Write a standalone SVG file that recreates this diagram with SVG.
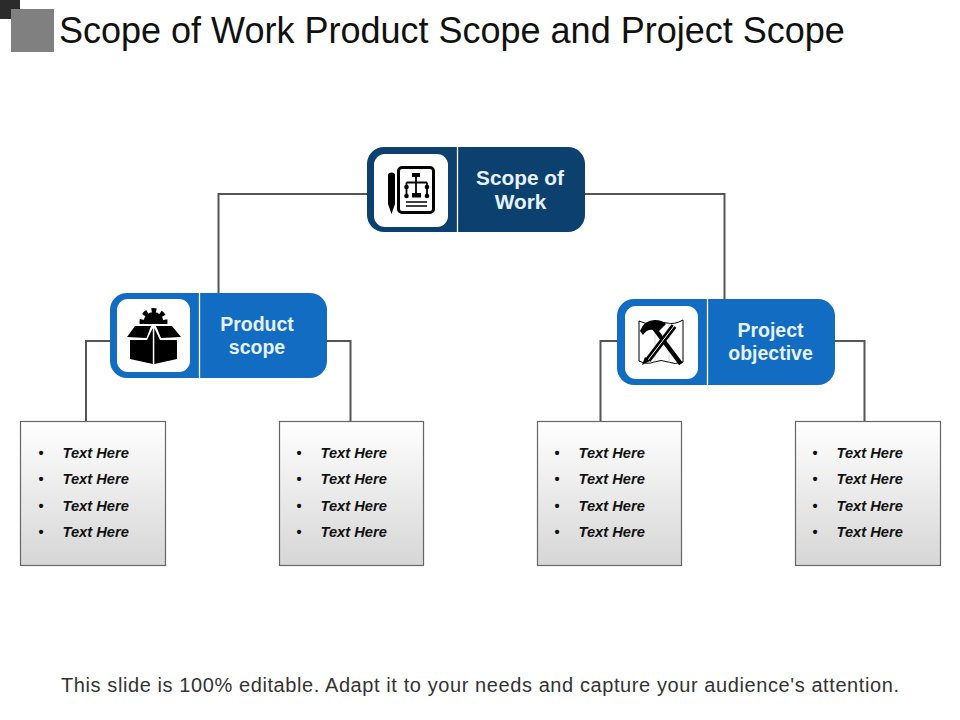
<svg xmlns="http://www.w3.org/2000/svg" xmlns:xlink="http://www.w3.org/1999/xlink" width="960" height="720" viewBox="0 0 960 720">
<style>
text{font-family:"Liberation Sans",Arial,sans-serif}
.title{font-size:36px;fill:#111}
.foot{font-size:20px;fill:#333}
.lbl{font-size:19.500px;font-weight:bold;fill:#e6f2fb;text-anchor:middle}
.lbl2{font-size:20.800px;font-weight:bold;fill:#e6f2fb;text-anchor:middle}
.li{font-size:14.700px;font-weight:bold;font-style:italic;fill:#111}
.bu{font-size:14.600px;font-weight:bold;fill:#111}
.box{fill:url(#g);stroke:#666;stroke-width:1.2}
.conn{fill:none;stroke:#555;stroke-width:2}
.k{fill:#000}
.ko{fill:none;stroke:#000}
</style>
<defs>
<linearGradient id="g" x1="0" y1="0" x2="0" y2="1"><stop offset="0" stop-color="#fff"/><stop offset="1" stop-color="#d6d6d6"/></linearGradient>
<clipPath id="gearclip"><rect x="130" y="300" width="46" height="24"/></clipPath>
<g id="items">
<text class="bu" x="18" y="37">•</text><text class="li" x="42" y="37">Text Here</text>
<text class="bu" x="18" y="63">•</text><text class="li" x="42" y="63">Text Here</text>
<text class="bu" x="18" y="90">•</text><text class="li" x="42" y="90">Text Here</text>
<text class="bu" x="18" y="116">•</text><text class="li" x="42" y="116">Text Here</text>
</g>
</defs>
<rect width="960" height="720" fill="#fff"/>
<rect x="0" y="0" width="20" height="19" fill="#2b2b2b"/>
<rect x="11" y="9" width="43" height="43" fill="#808080"/>
<text class="title" x="59" y="42.500">Scope of Work Product Scope and Project Scope</text>
<g id="connectors">
<path class="conn" d="M367 194H218.500V293"/>
<path class="conn" d="M585 194H724.500V299"/>
<path class="conn" d="M110 341H86V421"/>
<path class="conn" d="M327 341H350.500V421"/>
<path class="conn" d="M617 341H600.500V421"/>
<path class="conn" d="M835 341H864.500V421"/>
</g>
<g id="node-scope">
<rect x="367" y="147" width="218" height="85" rx="17" fill="#0b406f"/>
<rect x="374" y="154" width="74" height="73" rx="11" fill="#fff"/>
<path d="M457.500 147V232" stroke="#fff" stroke-width="1.300"/>
<path class="k" d="M388 175q0-2.500 3.500-2.500t3.500 2.500v29l-3.500 10-3.500-10z"/>
<rect class="ko" x="398.500" y="167.500" width="35" height="45" rx="3.500" stroke-width="3"/>
<rect class="k" x="412" y="173" width="8" height="4"/>
<path class="ko" d="M416 177v16M406.500 182.500h20.500M406.500 182.500v13M427 182.500v13" stroke-width="1.800"/>
<circle class="k" cx="406.500" cy="187" r="2.300"/><circle class="k" cx="427" cy="187" r="2.300"/><circle class="k" cx="406.500" cy="196" r="2.300"/><circle class="k" cx="427" cy="196" r="2.300"/>
<rect class="k" x="412" y="193" width="9" height="4.500"/>
<path class="ko" d="M406 202h21M406 206h21" stroke-width="1.500"/>
<text class="lbl2" x="520" y="185">Scope of</text><text class="lbl2" x="520.500" y="209">Work</text>
</g>
<g id="node-product">
<rect x="110" y="293" width="217" height="85" rx="17" fill="#126cc2"/>
<rect x="117" y="299" width="73" height="73" rx="11" fill="#fff"/>
<path d="M199.500 293V378" stroke="#fff" stroke-width="1.300"/>
<g clip-path="url(#gearclip)"><circle class="k" cx="153.500" cy="322" r="10"/><circle class="ko" cx="153.500" cy="322" r="11.500" stroke-width="5" stroke-dasharray="4.520 4.520" transform="rotate(-11.250 153.500 322)"/></g>
<path class="k" d="M135 326H151L146.500 338 127 337zM156 326H172L181 337 161 338z"/>
<path class="k" d="M130 340H147L152.800 328V364L130 359zM177 340H160L154.300 328V364L177 359z"/>
<text class="lbl" x="257" y="331">Product</text><text class="lbl" x="257" y="354">scope</text>
</g>
<g id="node-project">
<rect x="617" y="299" width="218" height="86" rx="17" fill="#126cc2"/>
<rect x="625" y="306" width="73" height="73" rx="11" fill="#fff"/>
<path d="M707.500 299V385" stroke="#fff" stroke-width="1.300"/>
<path class="ko" d="M639 321q7 4 14 2t14 0 16-3v42q-8 3-15 0t-14 0-15-1z" stroke-width="1"/>
<path d="M655 323v40M669 323v40" fill="none" stroke="#bbb" stroke-width=".6"/>
<path class="ko" d="M654 328L681 364" stroke-width="4.500"/>
<path class="k" d="M640 331q4-11 15-11 7 0 11 4l-9 9-4-3q-6-1-10 5z"/>
<path class="ko" d="M674 326L648 360" stroke-width="6"/>
<path d="M674 326L648 360" fill="none" stroke="#fff" stroke-width="1"/>
<path class="k" d="M645 357l-3 8 8-4z"/>
<text class="lbl" x="770.500" y="337">Project</text><text class="lbl" x="770.500" y="360">objective</text>
</g>
<g id="list-1"><rect class="box" x="20.500" y="421.500" width="145" height="144"/><use xlink:href="#items" href="#items" x="20.500" y="421"/></g>
<g id="list-2"><rect class="box" x="279.500" y="421.500" width="144" height="144"/><use xlink:href="#items" href="#items" x="278.500" y="421"/></g>
<g id="list-3"><rect class="box" x="537.500" y="421.500" width="144" height="144"/><use xlink:href="#items" href="#items" x="536.500" y="421"/></g>
<g id="list-4"><rect class="box" x="795.500" y="421.500" width="145" height="144"/><use xlink:href="#items" href="#items" x="794.500" y="421"/></g>
<text class="foot" x="480" y="692" text-anchor="middle" textLength="838">This slide is 100% editable. Adapt it to your needs and capture your audience's attention.</text>
</svg>
